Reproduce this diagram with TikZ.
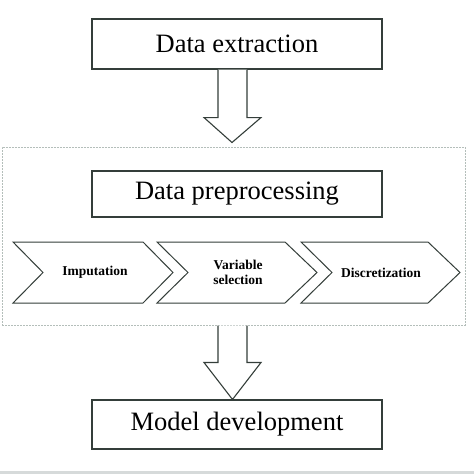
\documentclass[tikz,border=0pt]{standalone}
\usepackage{fontspec}
\setmainfont{Liberation Serif}
\usetikzlibrary{calc}
\definecolor{edge}{RGB}{52,62,58}
\definecolor{frame}{RGB}{180,190,186}
\definecolor{band}{RGB}{214,218,218}
\begin{document}
\begin{tikzpicture}[x=1pt,y=-1pt,
  box/.style={draw=edge,line width=1.1pt,minimum width=290pt,inner sep=0pt,font=\fontsize{26.5}{30}\selectfont},
  chev/.style={draw=edge,line width=1.0pt,line join=miter},
  blockarrow/.style={draw=edge,line width=1.1pt,fill=white,line join=miter},
  lab/.style={font=\bfseries\fontsize{13.5}{15}\selectfont,align=center,inner sep=0pt}]
\useasboundingbox (0,0) rectangle (474,474);
\fill[white] (0,0) rectangle (474,474);
\fill[band] (0,471) rectangle (474,474);
% container
\node[draw=frame,line width=1pt,dash pattern=on 2pt off 1pt,minimum width=463pt,minimum height=178pt,inner sep=0pt] (stage) at (233.5,236) {};
% boxes
\node[box,minimum height=50pt] (ext) at (237,44) {Data extraction};
\node[box,minimum height=46pt] (pre) at (237,194) {Data preprocessing};
\node[box,minimum height=49pt] (mod) at (237,424.5) {Model development};
% block arrows
\draw[blockarrow] ($(ext.south)+(-19,0)$) -- ++(0,48) -- ++(-14,0) -- ($(stage.north)+(-1.5,-4)$) coordinate (tip1) -- ($(ext.south)+(24,48)$) -- ++(-14,0) -- ($(ext.south)+(10,0)$);
\draw[blockarrow] ($(stage.south)+(-15.5,0)$) -- ++(0,37) -- ++(-14,0) -- ($(mod.north)+(-4.5,0)$) -- ($(stage.south)+(27.5,37)$) -- ++(-14,0) -- ($(stage.south)+(13.5,0)$);
% chevrons
\draw[chev] (13,242) -- (143,242) -- (173,272.5) -- (143,303) -- (13,303) -- (43,272.5) -- cycle;
\draw[chev] (157,242) -- (285,242) -- (317,272.5) -- (285,303) -- (157,303) -- (188,272.5) -- cycle;
\draw[chev] (301,242) -- (428,242) -- (460,272.5) -- (428,303) -- (301,303) -- (332,272.5) -- cycle;
\node[lab] (imp) at (95,272.5) {Imputation};
\node[lab] (var) at (238,272) {Variable\\selection};
\node[lab] (dis) at (381,272.5) {Discretization};
\end{tikzpicture}
\end{document}
